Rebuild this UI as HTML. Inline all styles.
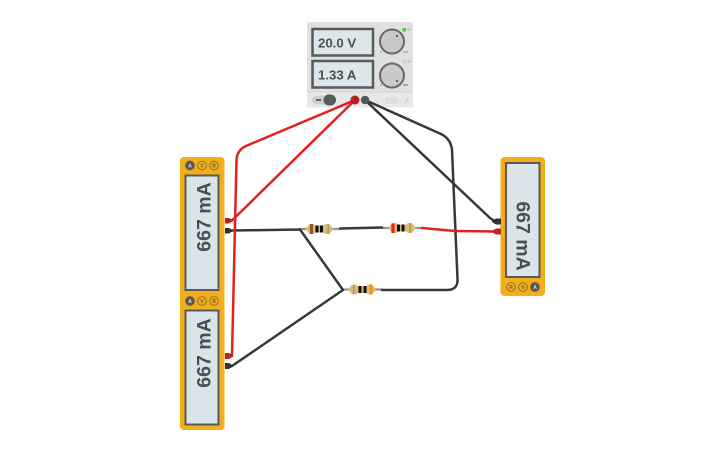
<!DOCTYPE html>
<html><head><meta charset="utf-8"><style>
html,body{margin:0;padding:0;background:#fff}
svg{display:block;filter:blur(.3px)}
text{font-family:"Liberation Sans",sans-serif;font-weight:bold;fill:#4a4f50}
text.b{font-size:5px;fill:#6b5a25;text-anchor:middle}
</style></head><body>
<svg width="725" height="453" viewBox="0 0 725 453" xmlns="http://www.w3.org/2000/svg">
<defs>
<g id="res">
  <line x1="-21" y1="0" x2="21" y2="0" stroke="#949494" stroke-width="2.200"/>
  <path d="M-14,0 L-10,-5 H-6 L-4,-3.500 H4 L6,-5 H10 L14,0 L10,5 H6 L4,3.500 H-4 L-6,5 H-10Z" fill="#dcbc7c"/>
</g>
</defs>

<!-- power supply -->
<rect x="307" y="22" width="106" height="85.500" rx="2" fill="#e0e0e0"/>
<rect x="307" y="92" width="106" height="15.500" rx="2" fill="#e8e8e8"/>
<line x1="307" y1="92" x2="413" y2="92" stroke="#d4d4d4"/>
<rect x="312.500" y="29" width="60.500" height="26.500" fill="#dde6ea" stroke="#555a5a" stroke-width="2.500"/>
<rect x="312.500" y="61" width="60.500" height="26.500" fill="#dde6ea" stroke="#555a5a" stroke-width="2.500"/>
<text x="318" y="47.500" font-size="13.200">20.0 V</text>
<text x="318" y="79.500" font-size="13.200">1.33 A</text>
<circle cx="392" cy="41.500" r="12" fill="#c9c9c9" stroke="#666a6a" stroke-width="2"/>
<circle cx="392" cy="75.500" r="12" fill="#c9c9c9" stroke="#666a6a" stroke-width="2"/>
<circle cx="397" cy="36" r="1" fill="#444"/>
<circle cx="397" cy="81" r="1" fill="#444"/>
<rect x="402.500" y="28" width="3.500" height="3.500" fill="#3ccb3c"/>
<circle cx="404.500" cy="61.500" r="1.500" fill="none" stroke="#bbb" stroke-width=".7"/>
<rect x="407.500" y="28.500" width="3" height="2" fill="#bbb"/>
<rect x="407.500" y="60.500" width="3" height="2" fill="#bbb"/>
<rect x="380" y="51" width="2" height="2" fill="#bbb"/>
<rect x="403" y="51" width="5" height="2" fill="#bbb"/>
<rect x="380" y="84" width="2" height="2" fill="#bbb"/>
<rect x="403" y="84" width="5" height="2" fill="#aaa"/>
<rect x="312" y="95.500" width="24" height="9" rx="4.500" fill="#cfcfcf"/>
<rect x="323.500" y="94.500" width="12.500" height="11" rx="5.500" fill="#565b5b"/>
<rect x="316" y="99" width="5" height="2" fill="#666"/>
<rect x="385" y="97" width="13" height="7" fill="#dedede"/>
<path d="M405,104 L407,97 L406.500,100 L408,100 L405,104" stroke="#d4d4d4" fill="none"/>

<!-- left meters -->
<rect x="180" y="157" width="44.500" height="145" rx="4" fill="#f2ae1c"/>
<rect x="180" y="293" width="44.500" height="137" rx="4" fill="#f2ae1c"/>
<rect x="185.500" y="175.500" width="33" height="114.500" fill="#dae4e9" stroke="#585c5c" stroke-width="2"/>
<rect x="185.500" y="310.500" width="33" height="114" fill="#dae4e9" stroke="#585c5c" stroke-width="2"/>
<text transform="translate(210.500,217) rotate(-90)" font-size="19.500" text-anchor="middle">667 mA</text>
<text transform="translate(210.500,353) rotate(-90)" font-size="19.500" text-anchor="middle">667 mA</text>
<g fill="none" stroke="#7d6a30" stroke-width=".9">
  <circle cx="190" cy="165.500" r="4.500" fill="#555"/>
  <circle cx="202" cy="165.500" r="4.300"/>
  <circle cx="214" cy="165.500" r="4.300"/>
  <circle cx="190" cy="301" r="4.500" fill="#555"/>
  <circle cx="202" cy="301" r="4.300"/>
  <circle cx="214" cy="301" r="4.300"/>
</g>
<text class="b" x="190" y="167.300" style="fill:#ddd">A</text><text class="b" x="202" y="167.300">V</text><text class="b" x="214" y="167.300">R</text>
<text class="b" x="190" y="302.800" style="fill:#ddd">A</text><text class="b" x="202" y="302.800">V</text><text class="b" x="214" y="302.800">R</text>
<!-- right meter -->
<rect x="500.500" y="157" width="44.500" height="139" rx="4" fill="#f2ae1c"/>
<rect x="506" y="163" width="33.500" height="114" fill="#dae4e9" stroke="#585c5c" stroke-width="2"/>
<text transform="translate(516.500,236) rotate(90)" font-size="19.500" text-anchor="middle">667 mA</text>
<g fill="none" stroke="#7d6a30" stroke-width=".9">
  <circle cx="511" cy="287" r="4.300"/>
  <circle cx="523" cy="287" r="4.300"/>
  <circle cx="535" cy="287" r="4.500" fill="#555"/>
</g>
<text class="b" x="511" y="288.800">R</text><text class="b" x="523" y="288.800">V</text><text class="b" x="535" y="288.800" style="fill:#ddd">A</text>

<!-- resistors -->
<g transform="translate(319.500,229)"><use href="#res"/>
  <rect x="-9.500" y="-5" width="3" height="10" fill="#8a5a20"/>
  <rect x="-4" y="-3.500" width="3" height="7" fill="#111"/>
  <rect x="0.500" y="-3.500" width="3" height="7" fill="#111"/>
  <rect x="8" y="-4.500" width="1.300" height="9" fill="#a89050"/>
</g>
<g transform="translate(402,228)"><use href="#res"/>
  <rect x="-10.500" y="-4.500" width="3" height="9.500" fill="#ee1c1c"/>
  <rect x="-5" y="-3.500" width="3" height="7" fill="#111"/>
  <rect x="-0.500" y="-3.500" width="3" height="7" fill="#111"/>
  <rect x="7.500" y="-4.500" width="1.300" height="9" fill="#a89050"/>
</g>
<g transform="translate(362,289.500)"><use href="#res"/>
  <rect x="-9" y="-4.500" width="1.300" height="9" fill="#a89050"/>
  <rect x="-3.500" y="-3.500" width="3" height="7" fill="#111"/>
  <rect x="1.500" y="-3.500" width="3" height="7" fill="#111"/>
  <rect x="7.500" y="-5" width="3" height="10" fill="#f7930e"/>
</g>

<!-- wires -->
<g fill="none" stroke-linecap="round" stroke-linejoin="round">
  <path d="M232,230.500 L300,229.500 M340,228.500 L382,227.500 M300,229.500 L343,290 M232,366 L343,290 M382,290 L447,290 Q458,290 457.500,279 L452,150 Q451,139 441,134 L365,100 M365,100 L490,218 L496,222" stroke="#35393a" stroke-width="2.500"/>
  <path d="M232,220.500 L355,100 M355,100 L246,146 Q237,150 236.500,160 L232,356 M422,228 L455,231 L495,231.500" stroke="#e4201f" stroke-width="2.500"/>
</g>

<!-- meter terminals -->
<g>
  <path d="M225,218 H229 L233,220 V221 L229,223.500 H225Z" fill="#b5271f"/>
  <path d="M225,228 H229 L233,230 V231 L229,233.500 H225Z" fill="#333"/>
  <path d="M225,353 H229 L233,355.500 V356.500 L229,359 H225Z" fill="#b5271f"/>
  <path d="M225,363 H229 L233,365.500 V366.500 L229,369 H225Z" fill="#333"/>
  <path d="M501,218.500 H496 L492,221 V222 L496,224.500 H501Z" fill="#333"/>
  <path d="M501,228.500 H496 L492,231 V232 L496,234.500 H501Z" fill="#b5271f"/>
</g>
<circle cx="355" cy="100" r="4.500" fill="#b5211c"/>
<circle cx="365" cy="100" r="4.200" fill="#50585a"/>
</svg>
</body></html>
